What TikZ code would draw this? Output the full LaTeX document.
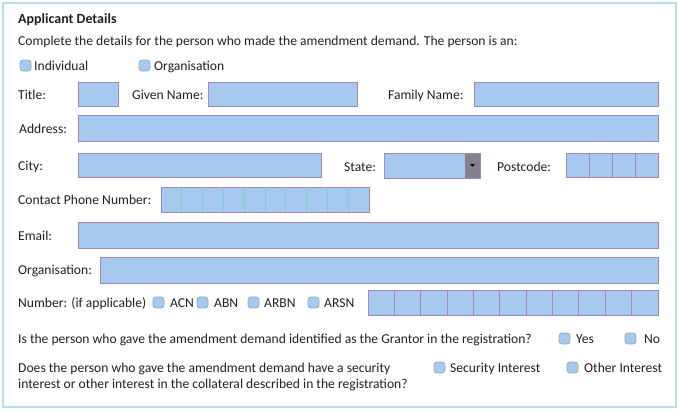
\documentclass[tikz,border=0pt]{standalone}
\usepackage{fontspec}
\setmainfont{Carlito}
\begin{document}
\begin{tikzpicture}[x=1pt,y=-1pt,
  lbl/.style={anchor=base west,inner sep=0,text=txt,font=\fontsize{13.6}{15}\selectfont},
  fld/.style={fill=fieldblue,draw=fieldpurple,line width=0.8pt},
  radio/.style={fill=fieldblue,draw=radiogray,line width=0.8pt,rounded corners=3pt}]
\definecolor{fieldblue}{HTML}{A6C9EF}
\definecolor{fieldpurple}{HTML}{A585B5}
\definecolor{fieldteal}{HTML}{7CCFC8}
\definecolor{radiogray}{HTML}{8AB0B8}
\definecolor{framec}{HTML}{B3E0EA}
\definecolor{txt}{HTML}{231F20}
\definecolor{ddgray}{HTML}{85808C}
\useasboundingbox (0,0) rectangle (679,410);
\draw[framec,line width=1.2pt] (3,3) rectangle (676,407);
\node[lbl,font=\fontsize{14}{16}\selectfont\bfseries] (h) at (18,23) {Applicant Details};
\node[lbl] (intro) at (18,45) {Complete the details for the person who made the amendment demand. The person is an:};
% radios row
\draw[radio] (20,60) rectangle (31,71); \node[lbl] (ind) at (34,70) {Individual};
\draw[radio] (139,60) rectangle (150,71); \node[lbl] (org) at (154,70) {Organisation};
% Title row
\node[lbl] (tl) at (18,99) {Title:};
\draw[fld] (78,82) rectangle (118,106);
\node[lbl] (gl) at (132,99) {Given Name:};
\draw[fld] (208,82) rectangle (357,106);
\node[lbl] (fl) at (388,99) {Family Name:};
\draw[fld] (474,82) rectangle (658,106);
% Address
\node[lbl] (al) at (19,133) {Address:};
\draw[fld] (78,115) rectangle (658,141);
% City
\node[lbl] (cl) at (18,170) {City:};
\draw[fld] (78,153) rectangle (321,177);
\node[lbl] (sl) at (344,171) {State:};
\draw[fld] (384,153) rectangle (480,178);
\fill[ddgray] (465,153.5) rectangle (480,177.5);
\fill[black] (470,164) -- (475,164) -- (472.5,167) -- cycle;
\node[lbl] (pl) at (497,171) {Postcode:};
\draw[fld] (566,153) rectangle (658,177);
\foreach \i in {1,2,3} \draw[fieldpurple,line width=0.8pt] ({566+23*\i},153) -- ({566+23*\i},177);
% Phone
\node[lbl] (phl) at (18,204) {Contact Phone Number:};
\draw[fld] (161,187) rectangle (369,212);
\foreach \i in {1,...,9} \draw[fieldteal,line width=0.8pt] ({161+20.8*\i},187) -- ({161+20.8*\i},212);
% Email
\node[lbl] (el) at (18,240) {Email:};
\draw[fld] (78,222) rectangle (658,248);
% Organisation
\node[lbl] (ol) at (18,274) {Organisation:};
\draw[fld] (100,257) rectangle (658,283);
% Number
\node[lbl] (nl) at (18,307) {Number: (if applicable)};
\draw[radio] (153,297) rectangle (164,308); \node[lbl] (acn) at (170,307) {ACN};
\draw[radio] (197,297) rectangle (208,308); \node[lbl] (abn) at (214,307) {ABN};
\draw[radio] (248,297) rectangle (259,308); \node[lbl] (arbn) at (264,307) {ARBN};
\draw[radio] (308,297) rectangle (319,308); \node[lbl] (arsn) at (324,307) {ARSN};
\draw[fld] (368,290) rectangle (658,315);
\foreach \i in {1,...,10} \draw[fieldpurple,line width=0.8pt] ({368+26.36*\i},290) -- ({368+26.36*\i},315);
% question 1
\node[lbl] (q1) at (18,343) {Is the person who gave the amendment demand identified as the Grantor in the registration?};
\draw[radio] (559,333) rectangle (570,344); \node[lbl] (yes) at (576,343) {Yes};
\draw[radio] (625,333) rectangle (636,344); \node[lbl] (no) at (644,343) {No};
% question 2
\node[lbl] (q2a) at (18,372) {Does the person who gave the amendment demand have a security};
\node[lbl] (q2b) at (18,388) {interest or other interest in the collateral described in the registration?};
\draw[radio] (434,362) rectangle (445,373); \node[lbl] (si) at (450,372) {Security Interest};
\draw[radio] (567,362) rectangle (578,373); \node[lbl] (oi) at (584,372) {Other Interest};
\end{tikzpicture}
\end{document}
